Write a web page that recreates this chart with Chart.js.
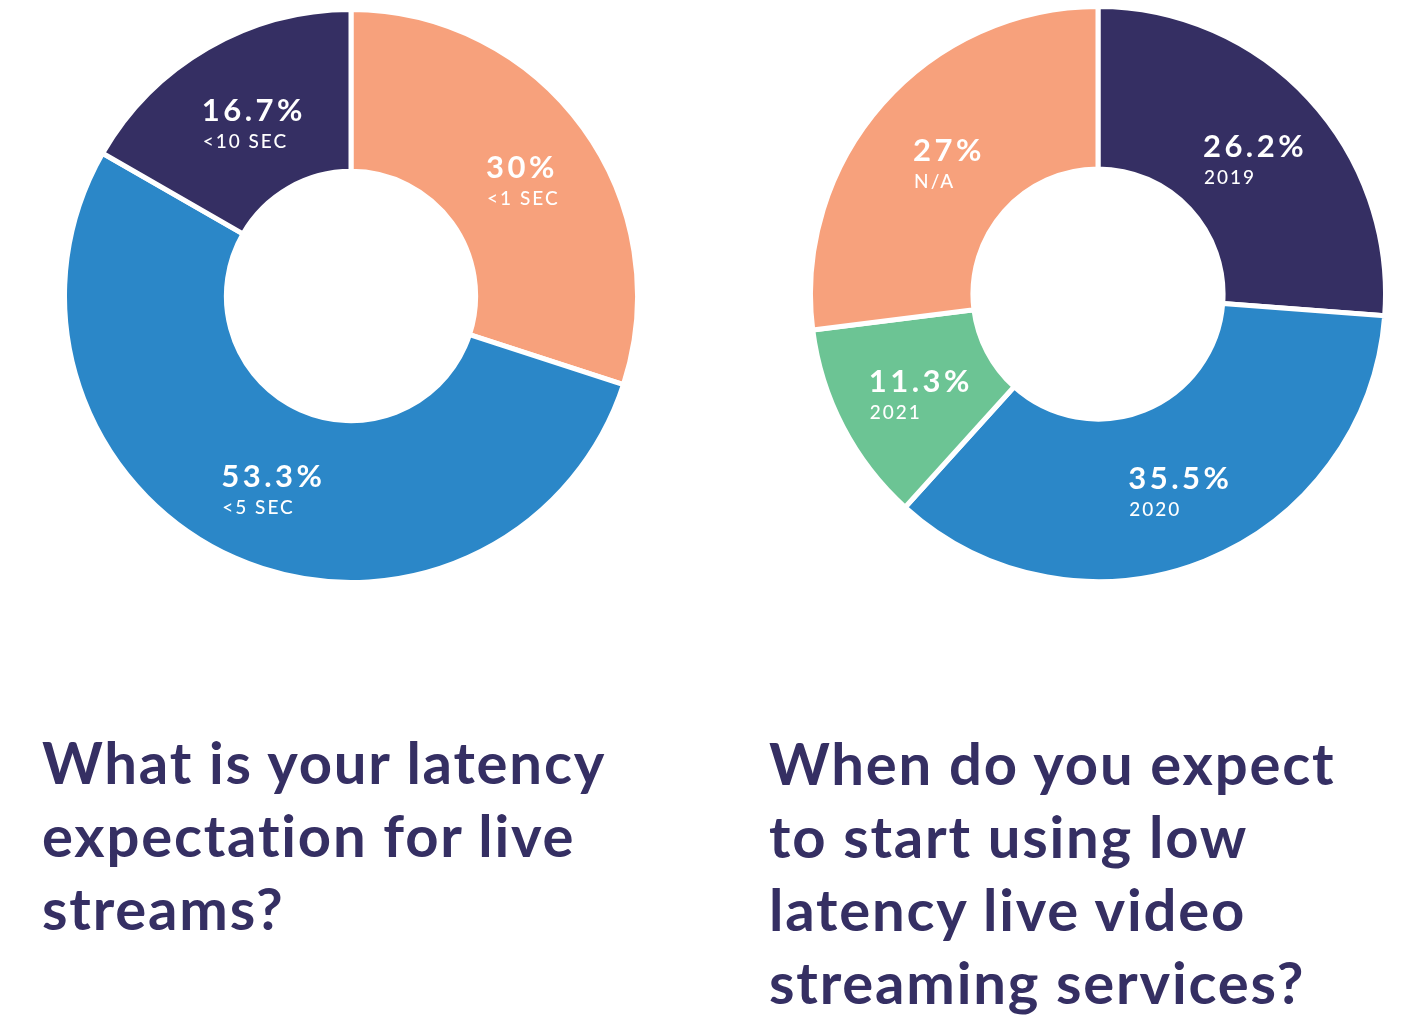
<!DOCTYPE html>
<html>
<head>
<meta charset="utf-8">
<script src="https://cdn.jsdelivr.net/npm/chart.js@4.4.0/dist/chart.umd.min.js"></script>
<style>
  html, body { margin: 0; padding: 0; background: #fff; }
  body { width: 1412px; height: 1018px; position: relative; overflow: hidden; }
  .box { position: absolute; }
  .title {
    position: absolute;
    font-family: Lato, sans-serif;
    font-weight: 700;
    font-size: 58px;
    line-height: 73px;
    letter-spacing: 1.8px;
    color: #352F63;
    white-space: nowrap;
  }
</style>
</head>
<body>
<div class="box" style="left:62px; top:7px; width:578px; height:578px;"><canvas id="chartLeft"></canvas></div>
<div class="box" style="left:808px; top:4px; width:580px; height:580px;"><canvas id="chartRight"></canvas></div>

<div class="title" style="left:42px; top:725px;">What is your latency<br>expectation for live<br>streams?</div>
<div class="title" style="left:769px; top:726px;">When do you expect<br>to start using low<br>latency live video<br>streaming services?</div>

<script>
// --- Data ---
const latencyLabels = ['<1 SEC', '<5 SEC', '<10 SEC']
const latencyValues = [30, 53.3, 16.7]
const latencyText = ['30%', '53.3%', '16.7%']

const startLabels = ['2019', '2020', '2021', 'N/A']
const startValues = [26.2, 35.5, 11.3, 27]
const startText = ['26.2%', '35.5%', '11.3%', '27%']

// --- Colours ---
const orange = '#F7A17C'
const blue = '#2B87C8'
const navy = '#352F63'
const green = '#6CC494'

// --- Label plugin: big value + small caption inside each slice ---
const sliceLabels = {
    id: 'sliceLabels',
    afterDatasetsDraw(chart, args, opts) {
        const ctx = chart.ctx
        const meta = chart.getDatasetMeta(0)
        meta.data.forEach((arc, i) => {
            const p = arc.tooltipPosition()
            const big = opts.values[i]
            const small = chart.data.labels[i]

            ctx.save()
            ctx.fillStyle = '#fff'
            ctx.textAlign = 'left'
            ctx.textBaseline = 'alphabetic'

            ctx.font = '700 31px Lato'
            ctx.letterSpacing = '3.5px'
            const wBig = ctx.measureText(big).width - 3.5
            ctx.font = '500 19px Lato'
            ctx.letterSpacing = '2px'
            const wSmall = ctx.measureText(small).width - 2
            const left = p.x - Math.max(wBig, wSmall) / 2 + 4

            ctx.font = '700 31px Lato'
            ctx.letterSpacing = '3.5px'
            ctx.fillText(big, left, p.y + 3)
            ctx.font = '500 19px Lato'
            ctx.letterSpacing = '2px'
            ctx.fillText(small, left + 1, p.y + 30)
            ctx.restore()
        })
    }
}

function makeDoughnut(id, labels, values, texts, colors) {
    return new Chart(document.getElementById(id), {
        type: 'doughnut',
        data: {
            labels: labels,
            datasets: [{
                data: values,
                backgroundColor: colors,
                borderColor: '#fff',
                borderWidth: 5,
                hoverOffset: 0
            }]
        },
        options: {
            responsive: true,
            maintainAspectRatio: false,
            animation: false,
            cutout: '43.5%',
            layout: { padding: 0 },
            plugins: {
                legend: { display: false },
                tooltip: { enabled: false },
                sliceLabels: { values: texts }
            }
        },
        plugins: [sliceLabels]
    })
}

makeDoughnut('chartLeft', latencyLabels, latencyValues, latencyText, [orange, blue, navy])
makeDoughnut('chartRight', startLabels, startValues, startText, [navy, blue, green, orange])
</script>
</body>
</html>
